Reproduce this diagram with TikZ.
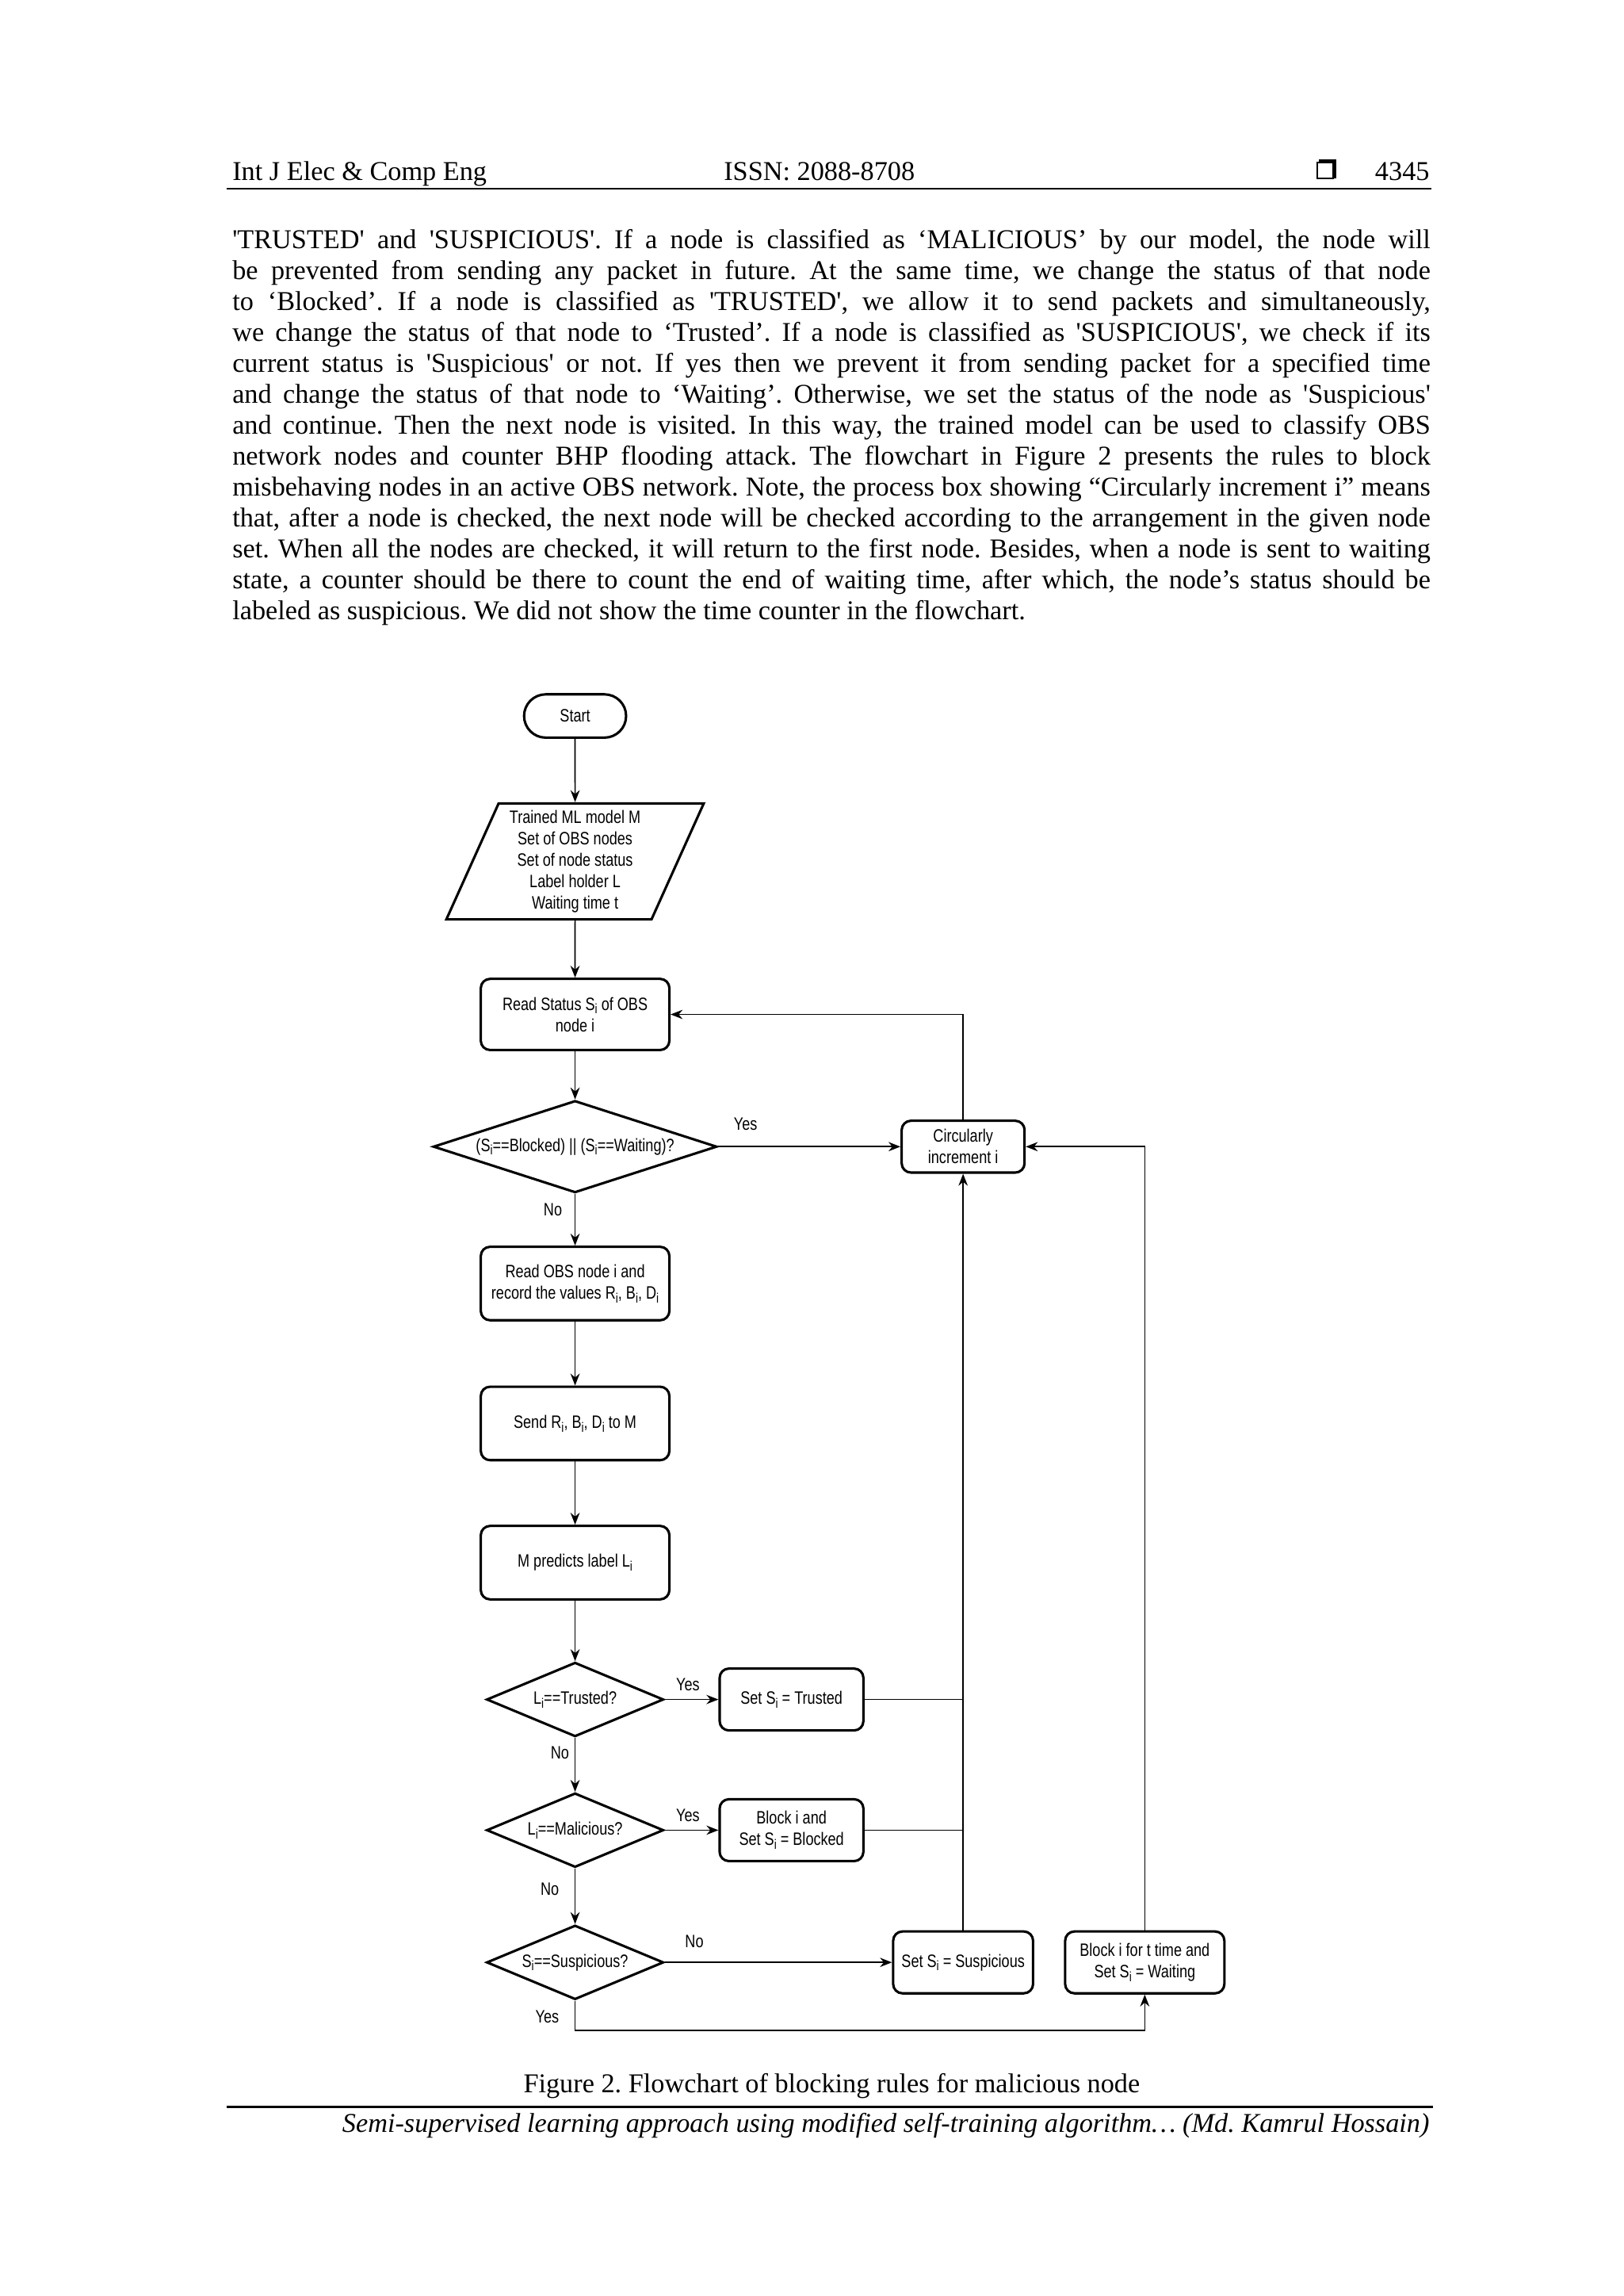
\documentclass[tikz,border=0pt]{standalone}
\usepackage{fontspec}
\setmainfont{Liberation Serif}[Ligatures=TeXOff]
\newfontfamily\chartfont[FakeStretch=0.8]{Liberation Sans}
\usepackage{tikz}
\usetikzlibrary{arrows.meta, shapes, calc, positioning}

\newcommand{\subi}{\raisebox{-0.4ex}{\fontsize{5}{5}\selectfont i}}
\newcommand{\chartsize}{\chartfont\fontsize{6.6}{7.9}\selectfont}
\frenchspacing

\begin{document}
\begin{tikzpicture}[
  >={Stealth[length=4.4pt,width=3.4pt]},
  every node/.style={inner sep=0pt},
  conn/.style={->, line width=0.5pt},
  plainline/.style={line width=0.5pt},
  block/.style={draw, line width=0.9pt, rounded corners=1.2mm, align=center, font=\chartsize, minimum width=2.44cm, minimum height=0.95cm},
  action/.style={block, minimum width=1.86cm, minimum height=0.80cm},
  decision/.style={draw, line width=0.9pt, diamond, shape aspect=3, align=center, font=\chartsize, minimum width=2.29cm, minimum height=0.96cm},
  terminal/.style={draw, line width=0.9pt, rounded rectangle, font=\chartsize, minimum width=1.32cm, minimum height=0.56cm},
  inout/.style={draw, line width=0.9pt, trapezium, trapezium left angle=63, trapezium right angle=117, trapezium stretches body, align=center, font=\chartsize, minimum width=3.33cm, minimum height=1.5cm},
  lbl/.style={font=\chartsize},
  pagetext/.style={font=\fontsize{10}{11.4}\selectfont}
]
\useasboundingbox (0,0) rectangle (21,-29.695);

% page header
\node[pagetext, anchor=base west] (journal) at (3.0,-2.33) {Int J Elec \& Comp Eng};
\node[pagetext, anchor=base] (issn) at (10.6,-2.33) {ISSN: 2088-8708};
\node[pagetext, anchor=base east] (pageno) at (18.5,-2.33) {4345};
\fill (17.065,-2.31) rectangle (17.29,-2.065);
\draw[fill=white, line width=0.6pt] (17.04,-2.31) rectangle (17.25,-2.105);
\draw[line width=0.8pt] (2.93,-2.44) -- (18.52,-2.44);

% body text
\node[pagetext, anchor=base west, text width=15.5cm, align=justify] (body) at (3.0,-3.21) {%
'TRUSTED' and 'SUSPICIOUS'. If a node is classified as ‘MALICIOUS’ by our model, the node will\linebreak
be prevented from sending any packet in future. At the same time, we change the status of that node\linebreak
to ‘Blocked’. If a node is classified as 'TRUSTED', we allow it to send packets and simultaneously,\linebreak
we change the status of that node to ‘Trusted’. If a node is classified as 'SUSPICIOUS', we check if its\linebreak
current status is 'Suspicious' or not. If yes then we prevent it from sending packet for a specified time\linebreak
and change the status of that node to ‘Waiting’. Otherwise, we set the status of the node as 'Suspicious'\linebreak
and continue. Then the next node is visited. In this way, the trained model can be used to classify OBS\linebreak
network nodes and counter BHP flooding attack. The flowchart in Figure 2 presents the rules to block\linebreak
misbehaving nodes in an active OBS network. Note, the process box showing “Circularly increment i” means\linebreak
that, after a node is checked, the next node will be checked according to the arrangement in the given node\linebreak
set. When all the nodes are checked, it will return to the first node. Besides, when a node is sent to waiting\linebreak
state, a counter should be there to count the end of waiting time, after which, the node’s status should be\linebreak
labeled as suspicious. We did not show the time counter in the flowchart.};

% flowchart
\node[terminal] (start) at (7.44,-9.26) {Start};
\node[inout] (input) at (7.44,-11.14) {Trained ML model M\\Set of OBS nodes\\Set of node status\\Label holder L\\Waiting time t};
\node[block, minimum height=0.92cm] (readstat) at (7.44,-13.12) {Read Status S\subi{} of OBS\\node i};
\node[decision, minimum width=3.67cm, minimum height=1.19cm] (chkstat) at (7.44,-14.83) {(S\subi==Blocked) || (S\subi==Waiting)?};
\node[block, minimum width=1.59cm, minimum height=0.67cm] (incr) at (12.46,-14.83) {Circularly\\increment i};
\node[block] (readobs) at (7.44,-16.60) {Read OBS node i and\\record the values R\subi, B\subi, D\subi};
\node[block] (send) at (7.44,-18.41) {Send R\subi, B\subi, D\subi{} to M};
\node[block] (predict) at (7.44,-20.21) {M predicts label L\subi};
\node[decision] (istrust) at (7.44,-21.98) {L\subi==Trusted?};
\node[action] (settrust) at (10.24,-21.98) {Set S\subi{} = Trusted};
\node[decision] (ismal) at (7.44,-23.67) {L\subi==Malicious?};
\node[action] (setblock) at (10.24,-23.67) {Block i and\\Set S\subi{} = Blocked};
\node[decision] (issus) at (7.44,-25.38) {S\subi==Suspicious?};
\node[action, minimum width=1.81cm] (setsus) at (12.46,-25.38) {Set S\subi{} = Suspicious};
\node[action, minimum width=2.06cm] (setwait) at (14.81,-25.38) {Block i for t time and\\Set S\subi{} = Waiting};
\coordinate (yesrow) at (0,-26.26);

\draw[conn] (start) -- (input);
\draw[conn] (input) -- (readstat);
\draw[conn] (readstat) -- (chkstat);
\draw[conn] (chkstat) -- node[lbl, left=1.6mm, pos=0.31] {No} (readobs);
\draw[conn] (chkstat) -- node[lbl, above=2mm, pos=0.15] {Yes} (incr);
\draw[conn] (readobs) -- (send);
\draw[conn] (send) -- (predict);
\draw[conn] (predict) -- (istrust);
\draw[conn] (istrust) -- node[lbl, above=1mm, pos=0.43] {Yes} (settrust);
\draw[conn] (istrust) -- node[lbl, left=0.7mm, pos=0.27] {No} (ismal);
\draw[conn] (ismal) -- node[lbl, above=1mm, pos=0.43] {Yes} (setblock);
\draw[conn] (ismal) -- node[lbl, left=2mm, pos=0.37] {No} (issus);
\draw[conn] (issus) -- node[lbl, above=1.8mm, pos=0.13] {No} (setsus);
\draw[conn] (issus.south) -- node[lbl, left=2mm, pos=0.55] {Yes} (issus.south |- yesrow) -| (setwait.south);
\draw[plainline] (settrust.east) -- (settrust.east -| incr.south);
\draw[plainline] (setblock.east) -- (setblock.east -| incr.south);
\draw[conn] (setsus) -- (incr);
\draw[conn] (setwait.north) |- (incr.east);
\draw[conn] (incr.north) |- (readstat.east);

% caption and footer
\node[pagetext, anchor=base] (caption) at (10.76,-27.06) {Figure 2. Flowchart of blocking rules for malicious node};
\draw[line width=0.8pt] (2.93,-27.25) -- (18.54,-27.25);
\node[pagetext, anchor=base east, font=\fontsize{10}{11.4}\selectfont\itshape] (footer) at (18.5,-27.58) {Semi-supervised learning approach using modified self-training algorithm… (Md. Kamrul Hossain)};
\end{tikzpicture}
\end{document}
